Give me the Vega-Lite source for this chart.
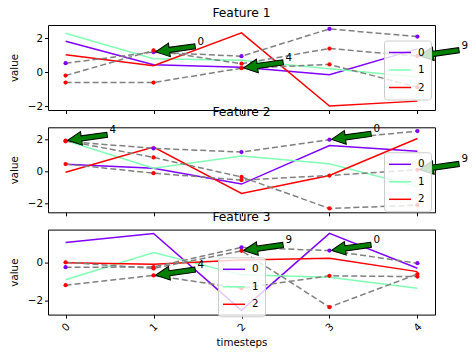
{
  "$schema": "https://vega.github.io/schema/vega-lite/v6.json",
  "padding": {"left": 8, "top": 6, "right": 0, "bottom": 0},
  "bounds": "flush",
  "spacing": 17.3,
  "config": {
    "font": "DejaVu Sans",
    "view": {"stroke": "black", "strokeWidth": 1},
    "axis": {"grid": false, "domain": false, "tickColor": "black", "tickSize": 3.5, "labelColor": "black", "labelFontSize": 10.3, "titleFontSize": 10.3, "titleFontWeight": "normal", "titleColor": "black", "labelPadding": 2},
    "title": {"fontSize": 12.3, "fontWeight": "normal", "color": "black", "offset": 6, "frame": "group", "anchor": "middle"},
    "legend": {"orient": "none", "title": null, "symbolType": "M-1.4,0L3,0", "symbolSize": 100, "symbolStrokeWidth": 1.5, "labelFontSize": 10.3, "labelColor": "black", "fillColor": "rgba(255,255,255,0.8)", "strokeColor": "#cccccc", "padding": 6, "cornerRadius": 3, "rowPadding": 5.5, "labelOffset": 16, "zindex": 1}
  },
  "datasets": {
    "lines": [
      {"f":1,"s":"0","t":0,"v":1.82},{"f":1,"s":"0","t":1,"v":0.44},{"f":1,"s":"0","t":2,"v":0.30},{"f":1,"s":"0","t":3,"v":-0.15},{"f":1,"s":"0","t":4,"v":1.37},
      {"f":1,"s":"1","t":0,"v":2.29},{"f":1,"s":"1","t":1,"v":0.79},{"f":1,"s":"1","t":2,"v":0.70},{"f":1,"s":"1","t":3,"v":0.20},{"f":1,"s":"1","t":4,"v":-0.28},
      {"f":1,"s":"2","t":0,"v":1.02},{"f":1,"s":"2","t":1,"v":0.38},{"f":1,"s":"2","t":2,"v":2.31},{"f":1,"s":"2","t":3,"v":-1.98},{"f":1,"s":"2","t":4,"v":-1.69},
      {"f":2,"s":"0","t":0,"v":0.45},{"f":2,"s":"0","t":1,"v":0.20},{"f":2,"s":"0","t":2,"v":-0.80},{"f":2,"s":"0","t":3,"v":1.63},{"f":2,"s":"0","t":4,"v":1.27},
      {"f":2,"s":"1","t":0,"v":1.95},{"f":2,"s":"1","t":1,"v":0.20},{"f":2,"s":"1","t":2,"v":0.97},{"f":2,"s":"1","t":3,"v":0.48},{"f":2,"s":"1","t":4,"v":-0.96},
      {"f":2,"s":"2","t":0,"v":-0.05},{"f":2,"s":"2","t":1,"v":1.54},{"f":2,"s":"2","t":2,"v":-1.39},{"f":2,"s":"2","t":3,"v":-0.26},{"f":2,"s":"2","t":4,"v":2.07},
      {"f":3,"s":"0","t":0,"v":1.04},{"f":3,"s":"0","t":1,"v":1.51},{"f":3,"s":"0","t":2,"v":-2.52},{"f":3,"s":"0","t":3,"v":1.51},{"f":3,"s":"0","t":4,"v":-0.31},
      {"f":3,"s":"1","t":0,"v":-0.92},{"f":3,"s":"1","t":1,"v":0.51},{"f":3,"s":"1","t":2,"v":-0.66},{"f":3,"s":"1","t":3,"v":-0.78},{"f":3,"s":"1","t":4,"v":-1.36},
      {"f":3,"s":"2","t":0,"v":-0.02},{"f":3,"s":"2","t":1,"v":-0.10},{"f":3,"s":"2","t":2,"v":0.12},{"f":3,"s":"2","t":3,"v":0.21},{"f":3,"s":"2","t":4,"v":-0.49}
    ],
    "samples": [
      {"f":1,"id":"0","t":0,"v":0.53,"c":"p"},{"f":1,"id":"0","t":1,"v":1.18,"c":"p"},{"f":1,"id":"0","t":2,"v":0.94,"c":"p"},{"f":1,"id":"0","t":3,"v":2.54,"c":"p"},{"f":1,"id":"0","t":4,"v":2.09,"c":"p"},
      {"f":1,"id":"4","t":0,"v":-0.60,"c":"r"},{"f":1,"id":"4","t":1,"v":-0.60,"c":"r"},{"f":1,"id":"4","t":2,"v":0.24,"c":"r"},{"f":1,"id":"4","t":3,"v":0.46,"c":"r"},{"f":1,"id":"4","t":4,"v":-0.87,"c":"r"},
      {"f":1,"id":"9","t":0,"v":-0.19,"c":"r"},{"f":1,"id":"9","t":1,"v":1.28,"c":"r"},{"f":1,"id":"9","t":2,"v":0.50,"c":"r"},{"f":1,"id":"9","t":3,"v":1.39,"c":"r"},{"f":1,"id":"9","t":4,"v":0.95,"c":"r"},
      {"f":2,"id":"0","t":0,"v":1.90,"c":"r"},{"f":2,"id":"0","t":1,"v":1.45,"c":"p"},{"f":2,"id":"0","t":2,"v":1.22,"c":"p"},{"f":2,"id":"0","t":3,"v":2.00,"c":"p"},{"f":2,"id":"0","t":4,"v":2.54,"c":"p"},
      {"f":2,"id":"4","t":0,"v":1.94,"c":"r"},{"f":2,"id":"4","t":1,"v":0.88,"c":"r"},{"f":2,"id":"4","t":2,"v":-0.35,"c":"r"},{"f":2,"id":"4","t":3,"v":-2.34,"c":"r"},{"f":2,"id":"4","t":4,"v":-2.13,"c":"r"},
      {"f":2,"id":"9","t":0,"v":0.46,"c":"r"},{"f":2,"id":"9","t":1,"v":-0.11,"c":"r"},{"f":2,"id":"9","t":2,"v":-0.55,"c":"r"},{"f":2,"id":"9","t":3,"v":-0.26,"c":"r"},{"f":2,"id":"9","t":4,"v":0.10,"c":"r"},
      {"f":3,"id":"0","t":0,"v":-0.26,"c":"p"},{"f":3,"id":"0","t":1,"v":-0.25,"c":"r"},{"f":3,"id":"0","t":2,"v":0.78,"c":"p"},{"f":3,"id":"0","t":3,"v":0.61,"c":"p"},{"f":3,"id":"0","t":4,"v":-0.05,"c":"p"},
      {"f":3,"id":"4","t":0,"v":-1.20,"c":"r"},{"f":3,"id":"4","t":1,"v":-0.69,"c":"r"},{"f":3,"id":"4","t":2,"v":-1.36,"c":"r"},{"f":3,"id":"4","t":3,"v":-0.71,"c":"r"},{"f":3,"id":"4","t":4,"v":-0.75,"c":"r"},
      {"f":3,"id":"9","t":0,"v":0.00,"c":"r"},{"f":3,"id":"9","t":1,"v":-0.32,"c":"r"},{"f":3,"id":"9","t":2,"v":0.60,"c":"r"},{"f":3,"id":"9","t":3,"v":-2.35,"c":"r"},{"f":3,"id":"9","t":4,"v":-0.62,"c":"r"}
    ],
    "arrows": [
      {"f":1,"label":"0","t":1,"v":1.18},{"f":1,"label":"4","t":2,"v":0.24},{"f":1,"label":"9","t":4,"v":0.95},
      {"f":2,"label":"4","t":0,"v":1.94},{"f":2,"label":"0","t":3,"v":2.00},{"f":2,"label":"9","t":4,"v":0.10},
      {"f":3,"label":"9","t":2,"v":0.60},{"f":3,"label":"0","t":3,"v":0.61},{"f":3,"label":"4","t":1,"v":-0.69}
    ]
  },
  "resolve": {"scale": {"y": "independent", "color": "independent", "fill": "independent"}, "legend": {"color": "independent"}},
  "vconcat": [
    {
      "title": "Feature 1", "width": 387, "height": 85,
      "encoding": {
        "x": {"field": "t", "type": "quantitative", "scale": {"domain": [-0.2, 4.2], "nice": false, "zero": false}, "axis": {"values": [0,1,2,3,4], "labels": false, "title": null}},
        "y": {"field": "v", "type": "quantitative", "scale": {"domain": [-2.21, 2.77], "nice": false, "zero": false}, "axis": {"values": [-2,0,2], "title": "value", "titlePadding": 8}}
      },
      "layer": [
        {"data": {"name": "lines"}, "transform": [{"filter": "datum.f == 1"}], "mark": {"type": "line", "strokeWidth": 1.5},
         "encoding": {"color": {"field": "s", "type": "nominal", "scale": {"domain": ["0","1","2"], "range": ["#8000ff","#80ffb4","#ff0000"]}, "legend": {"legendX": 336, "legendY": 15.5}}}},
        {"data": {"name": "samples"}, "transform": [{"filter": "datum.f == 1"}], "mark": {"type": "line", "color": "#808080", "strokeDash": [6, 3], "strokeWidth": 1.5},
         "encoding": {"detail": {"field": "id", "type": "nominal"}}},
        {"data": {"name": "samples"}, "transform": [{"filter": "datum.f == 1"}], "mark": {"type": "point", "filled": true, "size": 18, "opacity": 1},
         "encoding": {"fill": {"field": "c", "type": "nominal", "scale": {"domain": ["p","r"], "range": ["#8000ff","#ff0000"]}, "legend": null}}},
        {"data": {"name": "arrows"}, "transform": [{"filter": "datum.f == 1"}], "mark": {"type": "point", "shape": "M0.05,0L0.4,-0.17L0.4,-0.065L1.05,-0.065L1.05,0.065L0.4,0.065L0.4,0.17Z", "size": 6400, "angle": -8, "filled": true, "fill": "#008000", "stroke": "black", "strokeWidth": 1, "opacity": 1}},
        {"data": {"name": "arrows"}, "transform": [{"filter": "datum.f == 1"}], "mark": {"type": "text", "dx": 44, "dy": -7.5, "align": "left", "baseline": "alphabetic", "fontSize": 10.3, "color": "black"},
         "encoding": {"text": {"field": "label"}}}
      ]
    },
    {
      "title": "Feature 2", "width": 387, "height": 85,
      "encoding": {
        "x": {"field": "t", "type": "quantitative", "scale": {"domain": [-0.2, 4.2], "nice": false, "zero": false}, "axis": {"values": [0,1,2,3,4], "labels": false, "title": null}},
        "y": {"field": "v", "type": "quantitative", "scale": {"domain": [-2.58, 2.78], "nice": false, "zero": false}, "axis": {"values": [-2,0,2], "title": "value", "titlePadding": 8}}
      },
      "layer": [
        {"data": {"name": "lines"}, "transform": [{"filter": "datum.f == 2"}], "mark": {"type": "line", "strokeWidth": 1.5},
         "encoding": {"color": {"field": "s", "type": "nominal", "scale": {"domain": ["0","1","2"], "range": ["#8000ff","#80ffb4","#ff0000"]}, "legend": {"legendX": 336, "legendY": 25}}}},
        {"data": {"name": "samples"}, "transform": [{"filter": "datum.f == 2"}], "mark": {"type": "line", "color": "#808080", "strokeDash": [6, 3], "strokeWidth": 1.5},
         "encoding": {"detail": {"field": "id", "type": "nominal"}}},
        {"data": {"name": "samples"}, "transform": [{"filter": "datum.f == 2"}], "mark": {"type": "point", "filled": true, "size": 18, "opacity": 1},
         "encoding": {"fill": {"field": "c", "type": "nominal", "scale": {"domain": ["p","r"], "range": ["#8000ff","#ff0000"]}, "legend": null}}},
        {"data": {"name": "arrows"}, "transform": [{"filter": "datum.f == 2"}], "mark": {"type": "point", "shape": "M0.05,0L0.4,-0.17L0.4,-0.065L1.05,-0.065L1.05,0.065L0.4,0.065L0.4,0.17Z", "size": 6400, "angle": -8, "filled": true, "fill": "#008000", "stroke": "black", "strokeWidth": 1, "opacity": 1}},
        {"data": {"name": "arrows"}, "transform": [{"filter": "datum.f == 2"}], "mark": {"type": "text", "dx": 44, "dy": -7.5, "align": "left", "baseline": "alphabetic", "fontSize": 10.3, "color": "black"},
         "encoding": {"text": {"field": "label"}}}
      ]
    },
    {
      "title": "Feature 3", "width": 387, "height": 85,
      "encoding": {
        "x": {"field": "t", "type": "quantitative", "scale": {"domain": [-0.2, 4.2], "nice": false, "zero": false}, "axis": {"values": [0,1,2,3,4], "title": "timesteps", "labelAngle": -45, "labelAlign": "center", "labelBaseline": "middle", "labelPadding": 9, "titlePadding": 4}},
        "y": {"field": "v", "type": "quantitative", "scale": {"domain": [-2.74, 1.71], "nice": false, "zero": false}, "axis": {"values": [-2,0], "title": "value", "titlePadding": 8}}
      },
      "layer": [
        {"data": {"name": "lines"}, "transform": [{"filter": "datum.f == 3"}], "mark": {"type": "line", "strokeWidth": 1.5},
         "encoding": {"color": {"field": "s", "type": "nominal", "scale": {"domain": ["0","1","2"], "range": ["#8000ff","#80ffb4","#ff0000"]}, "legend": {"legendX": 170, "legendY": 27.7}}}},
        {"data": {"name": "samples"}, "transform": [{"filter": "datum.f == 3"}], "mark": {"type": "line", "color": "#808080", "strokeDash": [6, 3], "strokeWidth": 1.5},
         "encoding": {"detail": {"field": "id", "type": "nominal"}}},
        {"data": {"name": "samples"}, "transform": [{"filter": "datum.f == 3"}], "mark": {"type": "point", "filled": true, "size": 18, "opacity": 1},
         "encoding": {"fill": {"field": "c", "type": "nominal", "scale": {"domain": ["p","r"], "range": ["#8000ff","#ff0000"]}, "legend": null}}},
        {"data": {"name": "arrows"}, "transform": [{"filter": "datum.f == 3"}], "mark": {"type": "point", "shape": "M0.05,0L0.4,-0.17L0.4,-0.065L1.05,-0.065L1.05,0.065L0.4,0.065L0.4,0.17Z", "size": 6400, "angle": -8, "filled": true, "fill": "#008000", "stroke": "black", "strokeWidth": 1, "opacity": 1}},
        {"data": {"name": "arrows"}, "transform": [{"filter": "datum.f == 3"}], "mark": {"type": "text", "dx": 44, "dy": -7.5, "align": "left", "baseline": "alphabetic", "fontSize": 10.3, "color": "black"},
         "encoding": {"text": {"field": "label"}}}
      ]
    }
  ]
}
